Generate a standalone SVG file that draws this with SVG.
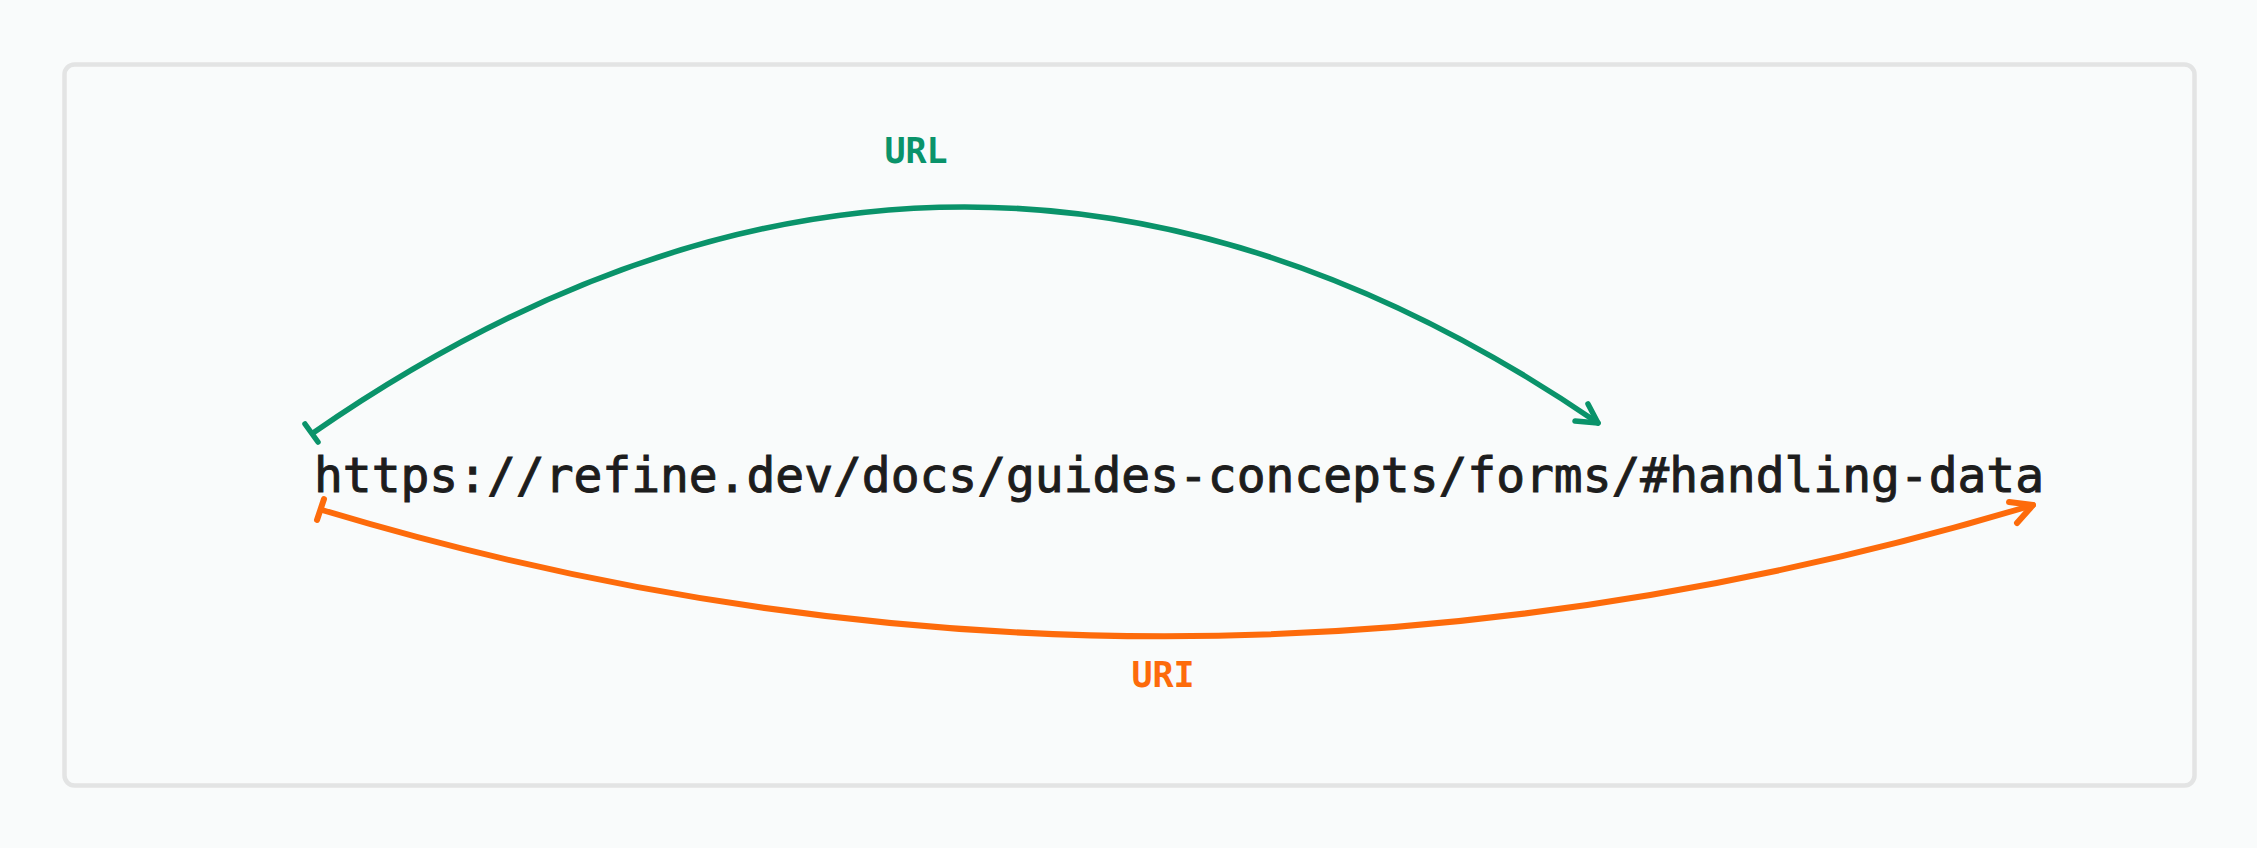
<svg xmlns="http://www.w3.org/2000/svg" width="2257" height="848" viewBox="0 0 2257 848">
<style>
.bg{fill:#f9fbfb}
.frame{fill:none;stroke:#e3e4e4;stroke-width:4.5}
.url{font-family:"DejaVu Sans Mono","Liberation Mono",monospace;font-size:48px;fill:#1d1d1d;stroke:#1d1d1d;stroke-width:1}
.lbl{font-family:"DejaVu Sans Mono","Liberation Mono",monospace;font-size:35px;font-weight:bold;text-anchor:middle}
.g{stroke:#0a936a;fill:none;stroke-width:5.5;stroke-linecap:round;stroke-linejoin:round}
.o{stroke:#fd6b0b;fill:none;stroke-width:6;stroke-linecap:round;stroke-linejoin:round}
</style>
<rect class="bg" x="0" y="0" width="2257" height="848"/>
<rect class="frame" x="64.5" y="64.5" width="2130" height="721" rx="10"/>
<g id="node-url">
<text class="url" x="314" y="492" textLength="1730" lengthAdjust="spacingAndGlyphs">https://refine.dev/docs/guides-concepts/forms/#handling-data</text>
</g>
<g id="label-url">
<text class="lbl" x="916" y="163" fill="#0a936a">URL</text>
</g>
<g id="label-uri">
<text class="lbl" x="1163" y="687" fill="#fd6b0b">URI</text>
</g>
<g id="connectors">
<g id="conn-url">
<path class="g" d="M313 433 Q959 -14 1598 423"/>
<path class="g" d="M305 424 L318 442"/>
<path class="g" d="M1588 404 L1598 423 L1575 421"/>
</g>
<g id="conn-uri">
<path class="o" d="M322 510 Q1168 765 2033 505"/>
<path class="o" d="M324 499 L317 520"/>
<path class="o" d="M2009 502 L2033 505 L2017 523"/>
</g>
</g>
</svg>
